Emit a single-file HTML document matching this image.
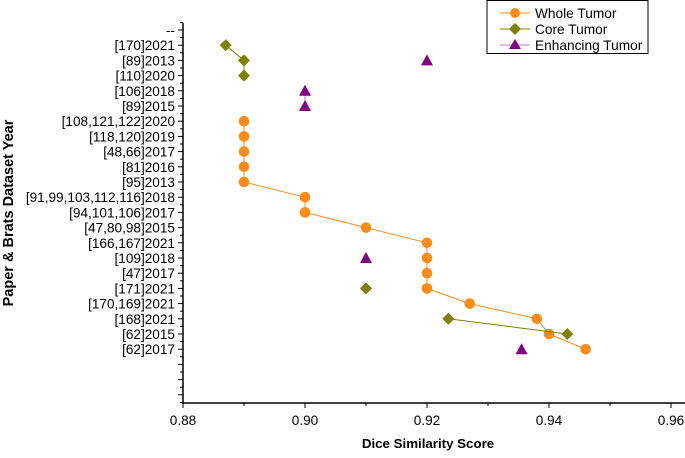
<!DOCTYPE html>
<html><head><meta charset="utf-8"><style>
body{margin:0;background:#fff}
svg text{font-family:"Liberation Sans",Arial,sans-serif}
</style></head><body>
<svg id="c" width="685" height="453" viewBox="0 0 685 453">
<g id="axes"></g><g id="marks"></g>
<text x="428" y="448" font-size="13.3" font-weight="bold" text-anchor="middle">Dice Similarity Score</text>
<text transform="translate(13,213) rotate(-90)" font-size="14.5" font-weight="bold" text-anchor="middle">Paper &amp; Brats Dataset Year</text>
<g>
<rect x="487" y="0.5" width="161" height="53" fill="#fff" stroke="#000" stroke-width="1"/>
<g><line x1="500" y1="13" x2="530" y2="13" stroke="#ff8c1a"/><circle cx="515" cy="13" r="5" fill="#ff8c1a"/><text x="535" y="18" font-size="13.7">Whole Tumor</text></g>
<g><line x1="500" y1="29" x2="530" y2="29" stroke="#808000"/><polygon points="515,23 521,29 515,35 509,29" fill="#808000"/><text x="535" y="34" font-size="13.7">Core Tumor</text></g>
<g><line x1="500" y1="45" x2="530" y2="45" stroke="#c080c0"/><polygon points="515,39 521,49 509,49" fill="#800080"/><text x="535" y="50" font-size="13.7">Enhancing Tumor</text></g>
</g>
</svg>
<script>
const categories=["--","[170]2021","[89]2013","[110]2020","[106]2018","[89]2015","[108,121,122]2020","[118,120]2019","[48,66]2017","[81]2016","[95]2013","[91,99,103,112,116]2018","[94,101,106]2017","[47,80,98]2015","[166,167]2021","[109]2018","[47]2017","[171]2021","[170,169]2021","[168]2021","[62]2015","[62]2017"];
const wholeTumor=[null,null,null,null,null,null,0.89,0.89,0.89,0.89,0.89,0.90,0.90,0.91,0.92,0.92,0.92,0.92,0.927,0.938,0.940,0.946];
const coreTumor=[null,0.887,0.89,0.89,null,null,null,null,null,null,null,null,null,null,null,null,null,0.91,null,0.9235,0.943,null];
const enhancingTumor=[null,null,0.92,null,0.90,0.90,null,null,null,null,null,null,null,null,null,0.91,null,null,null,null,null,0.9355];
const xTicks=[0.88,0.90,0.92,0.94,0.96];
const NS="http://www.w3.org/2000/svg";
const X0=183,X1=671,XMIN=0.88,XMAX=0.96,YTOP=23,YBOT=403;
const xs=v=>X0+(v-XMIN)/(XMAX-XMIN)*(X1-X0);
const ys=i=>30+i*15.2;
function mk(tag,attrs,parent){const e=document.createElementNS(NS,tag);for(const k in attrs)e.setAttribute(k,attrs[k]);parent.appendChild(e);return e;}
const ax=document.getElementById('axes'),mg=document.getElementById('marks');
let l=mk('line',{x1:X0,y1:YTOP,x2:X0,y2:YBOT+1,stroke:'#000','stroke-width':1.5},ax);


l=mk('line',{x1:X0-1,y1:YBOT,x2:685,y2:YBOT,stroke:'#000','stroke-width':1.5},ax);


for(let i=0;i<=24;i++){
  mk('line',{x1:X0-5,y1:ys(i),x2:X0,y2:ys(i),stroke:'#000','stroke-width':1},ax);
  mk('line',{x1:X0-3,y1:ys(i)+7.6,x2:X0,y2:ys(i)+7.6,stroke:'#000','stroke-width':1},ax);
}
mk('line',{x1:X0-3,y1:ys(0)-7.6,x2:X0,y2:ys(0)-7.6,stroke:'#000','stroke-width':1},ax);
categories.forEach((c,i)=>{const t=mk('text',{x:X0-8,y:ys(i)+5,'font-size':13.6,'text-anchor':'end'},ax);t.textContent=c;

});
xTicks.forEach((v,i)=>{mk('line',{x1:xs(v),y1:YBOT,x2:xs(v),y2:YBOT+5,stroke:'#000'},ax);
 if(i<xTicks.length-1)mk('line',{x1:xs(v+0.01),y1:YBOT,x2:xs(v+0.01),y2:YBOT+3,stroke:'#000'},ax);
 const t=mk('text',{x:xs(v),y:YBOT+22,'font-size':13.6,'text-anchor':'middle'},ax);t.textContent=v.toFixed(2);
 
 });
function series(data,color,lineColor,shape,name){
  for(let i=1;i<data.length;i++){if(data[i]!=null&&data[i-1]!=null){const s=mk('line',{x1:xs(data[i-1]),y1:ys(i-1),x2:xs(data[i]),y2:ys(i),stroke:lineColor,'stroke-width':1},mg);
   
   }}
  data.forEach((v,i)=>{if(v==null)return;const x=xs(v),y=ys(i);let e;
   if(shape==='c')e=mk('circle',{cx:x,cy:y,r:5.3,fill:color},mg);
   else if(shape==='d')e=mk('polygon',{points:`${x},${y-6} ${x+6},${y} ${x},${y+6} ${x-6},${y}`,fill:color},mg);
   else e=mk('polygon',{points:`${x},${y-6} ${x+6},${y+5} ${x-6},${y+5}`,fill:color},mg);
   
   });
}
series(wholeTumor,'#ff8c1a','#ff8c1a','c','whole-tumor');
series(coreTumor,'#808000','#808000','d','core-tumor');
series(enhancingTumor,'#800080','#c080c0','t','enhancing-tumor');
</script>
</body></html>
